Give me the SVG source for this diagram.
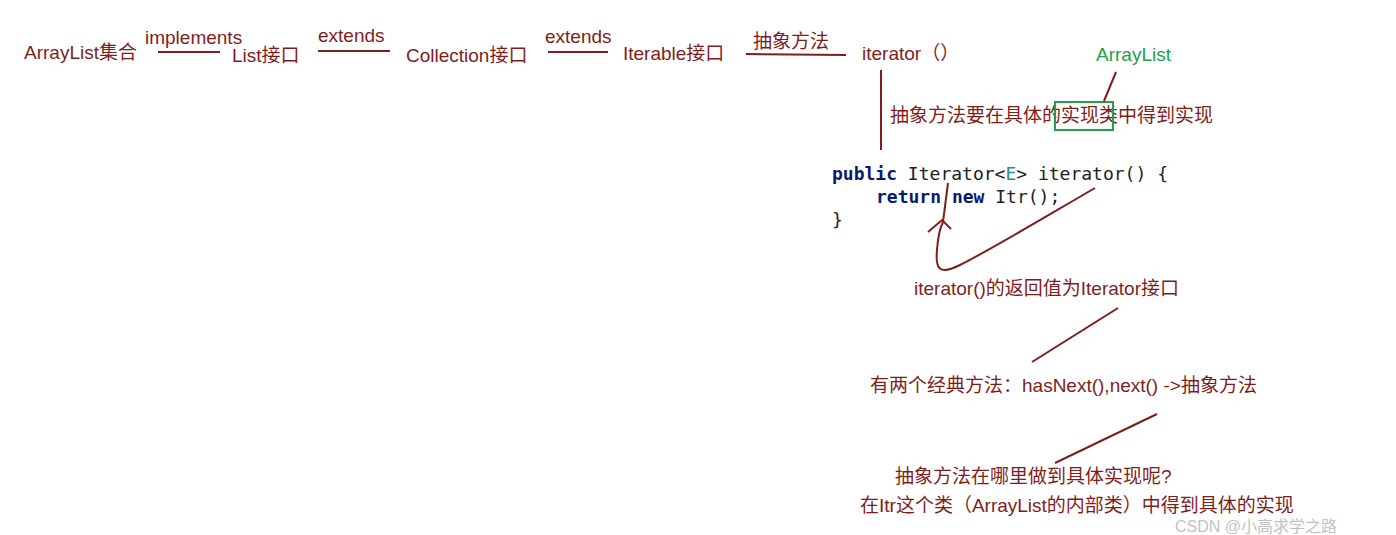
<svg xmlns="http://www.w3.org/2000/svg" width="1396" height="535" viewBox="0 0 1396 535">
<style>
.t{font-family:"Liberation Sans","Noto Sans CJK SC",sans-serif;font-size:19px;fill:#7f1d1d}
.c{font-family:"DejaVu Sans Mono","Liberation Mono",monospace;font-size:18px;fill:#222}
.k{fill:#0a1a6e;font-weight:bold}
.l{stroke:#7f1d1d;stroke-width:2;fill:none}
</style>
<rect width="1396" height="535" fill="#fff"/>
<g id="nodes">
<g id="n1"><text class="t" x="24" y="59">ArrayList集合</text></g>
<g id="n2"><text class="t" x="232" y="62">List接口</text></g>
<g id="n3"><text class="t" x="406" y="62">Collection接口</text></g>
<g id="n4"><text class="t" x="623" y="60">Iterable接口</text></g>
<g id="n5"><text class="t" x="862" y="60">iterator（）</text></g>
<g id="n6"><text x="1096" y="61" style="font-family:'Liberation Sans',sans-serif;font-size:19px;fill:#22a046">ArrayList</text></g>
<g id="n7"><text class="t" x="890" y="122">抽象方法要在具体的实现类中得到实现</text>
<rect x="1055" y="102" width="58" height="28" fill="none" stroke="#22a046" stroke-width="2"/></g>
<g id="code">
<text class="c" x="832" y="180"><tspan class="k">public</tspan> Iterator&lt;<tspan fill="#2a8c8c">E</tspan>&gt; iterator() {</text>
<text class="c" x="832" y="203"><tspan class="k" x="876">return</tspan> <tspan class="k">new</tspan> Itr();</text>
<text class="c" x="832" y="226">}</text>
</g>
<g id="n8"><text class="t" x="914" y="295">iterator()的返回值为Iterator接口</text></g>
<g id="n9"><text class="t" x="870" y="392">有两个经典方法：hasNext(),next() -&gt;抽象方法</text></g>
<g id="n10"><text class="t" x="895" y="483">抽象方法在哪里做到具体实现呢?</text></g>
<g id="n11"><text class="t" x="860" y="512">在Itr这个类（ArrayList的内部类）中得到具体的实现</text></g>
<text x="1175" y="532" style="font-family:'Liberation Sans','Noto Sans CJK SC',sans-serif;font-size:16px;fill:#999;opacity:0.6">CSDN @小高求学之路</text>
</g>
<g id="connectors">
<line class="l" x1="158" y1="52" x2="220" y2="52"/>
<text class="t" x="145" y="44">implements</text>
<line class="l" x1="318" y1="51" x2="390" y2="51"/>
<text class="t" x="318" y="42">extends</text>
<line class="l" x1="548" y1="52" x2="608" y2="52"/>
<text class="t" x="545" y="43">extends</text>
<line class="l" x1="746" y1="54" x2="846" y2="55"/>
<text class="t" x="753" y="48">抽象方法</text>
<line class="l" x1="881" y1="70" x2="881" y2="150"/>
<line class="l" x1="1116" y1="72" x2="1104" y2="101"/>
<path class="l" d="M1095 188 C1040 220 990 250 960 265 C940 275 935 270 937 250 C938 235 940 228 943 222 L948 183"/>
<path class="l" d="M928 232 L942 220 L951 229"/>
<line class="l" x1="1118" y1="308" x2="1032" y2="362"/>
<line class="l" x1="1157" y1="414" x2="1055" y2="463"/>
</g>
</svg>
